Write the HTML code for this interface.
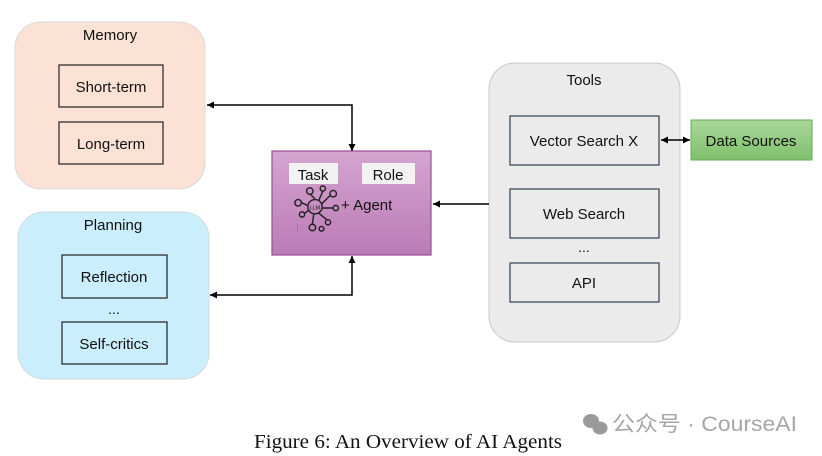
<!DOCTYPE html>
<html><head><meta charset="utf-8"><style>
body{margin:0;background:#fff;}
svg{display:block;}
text{font-family:"Liberation Sans",sans-serif;fill:#111;}
</style></head><body>
<svg width="822" height="456" viewBox="0 0 822 456" xmlns="http://www.w3.org/2000/svg">
<defs>
<linearGradient id="ag" x1="0" y1="0" x2="0" y2="1"><stop offset="0" stop-color="#d4a5d0"/><stop offset="1" stop-color="#bb7bb6"/></linearGradient>
<linearGradient id="gg" x1="0" y1="0" x2="0" y2="1"><stop offset="0" stop-color="#a9d89a"/><stop offset="1" stop-color="#7fc06c"/></linearGradient>
<marker id="ah" markerWidth="8" markerHeight="8" refX="7" refY="4" orient="auto" markerUnits="userSpaceOnUse"><path d="M0,0.5 L7,4 L0,7.5 z" fill="#000"/></marker>
<marker id="as" markerWidth="8" markerHeight="8" refX="1" refY="4" orient="auto" markerUnits="userSpaceOnUse"><path d="M8,0.5 L1,4 L8,7.5 z" fill="#000"/></marker>
</defs>
<!-- Memory -->
<rect x="15" y="22" width="190" height="167" rx="26" fill="#fbe2d5" stroke="#d9d9d9"/>
<text x="110" y="40" font-size="15" text-anchor="middle">Memory</text>
<rect x="59" y="65" width="104" height="42" fill="none" stroke="#222" stroke-width="1.2"/>
<text x="111" y="92" font-size="15" text-anchor="middle">Short-term</text>
<rect x="59" y="122" width="104" height="42" fill="none" stroke="#222" stroke-width="1.2"/>
<text x="111" y="149" font-size="15" text-anchor="middle">Long-term</text>
<!-- Planning -->
<rect x="18" y="212" width="191" height="167" rx="26" fill="#caeefb" stroke="#d0dbe0"/>
<text x="113" y="230" font-size="15" text-anchor="middle">Planning</text>
<rect x="62" y="255" width="105" height="43" fill="none" stroke="#222" stroke-width="1.2"/>
<text x="114" y="282" font-size="15" text-anchor="middle">Reflection</text>
<text x="114" y="314" font-size="14" text-anchor="middle">...</text>
<rect x="62" y="322" width="105" height="42" fill="none" stroke="#222" stroke-width="1.2"/>
<text x="114" y="349" font-size="15" text-anchor="middle">Self-critics</text>
<!-- Agent -->
<rect x="272" y="151" width="159" height="104" fill="url(#ag)" stroke="#9b4c97" stroke-width="1.2"/>
<rect x="289" y="163" width="49" height="21" fill="#f2f2f2"/>
<text x="313" y="180" font-size="15" text-anchor="middle">Task</text>
<rect x="362" y="163" width="53" height="21" fill="#f2f2f2"/>
<text x="388" y="180" font-size="15" text-anchor="middle">Role</text>
<g transform="translate(315,208) scale(1.3) translate(-315,-208)">
<g fill="none" stroke="#222" stroke-width="1.1">
<circle cx="315" cy="207" r="5.5"/>
<circle cx="311" cy="195" r="2.5"/><circle cx="321" cy="193" r="2"/><circle cx="329" cy="197" r="2.5"/>
<circle cx="302" cy="204" r="2.5"/><circle cx="305" cy="213" r="2"/><circle cx="331" cy="208" r="2"/>
<circle cx="313" cy="223" r="2.5"/><circle cx="325" cy="219" r="2"/><circle cx="320" cy="224" r="1.8"/>
<path d="M315,201 L311,197 M318,202 L321,195 M320,205 L327,198 M309,206 L305,204 M310,210 L307,212 M321,208 L329,208 M314,213 L313,220 M318,212 L324,217"/>
</g>
<text x="315" y="209" font-size="4" text-anchor="middle">LLM</text>
</g>
<rect x="297" y="224" width="1" height="8" fill="#888"/>
<text x="341" y="210" font-size="15">+ Agent</text>
<!-- Tools -->
<rect x="489" y="63" width="191" height="279" rx="26" fill="#ebebeb" stroke="#c8c8c8"/>
<text x="584" y="85" font-size="15" text-anchor="middle">Tools</text>
<rect x="510" y="116" width="149" height="49" fill="none" stroke="#2f3f55" stroke-width="1.2"/>
<text x="584" y="146" font-size="15" text-anchor="middle">Vector Search X</text>
<rect x="510" y="189" width="149" height="49" fill="none" stroke="#2f3f55" stroke-width="1.2"/>
<text x="584" y="219" font-size="15" text-anchor="middle">Web Search</text>
<text x="584" y="252" font-size="14" text-anchor="middle">...</text>
<rect x="510" y="263" width="149" height="39" fill="none" stroke="#2f3f55" stroke-width="1.2"/>
<text x="584" y="288" font-size="15" text-anchor="middle">API</text>
<rect x="691" y="120" width="121" height="40" fill="url(#gg)" stroke="#6aa85a"/>
<text x="751" y="146" font-size="15" text-anchor="middle">Data Sources</text>
<!-- connectors -->
<g stroke="#000" stroke-width="1.5" fill="none">
<polyline points="352,151 352,105 207,105" marker-start="url(#as)" marker-end="url(#ah)"/>
<polyline points="352,256 352,295 210,295" marker-start="url(#as)" marker-end="url(#ah)"/>
<line x1="489" y1="204" x2="433" y2="204" marker-end="url(#ah)"/>
<line x1="661" y1="140" x2="690" y2="140" marker-start="url(#as)" marker-end="url(#ah)"/>
</g>
<!-- watermark -->
<g fill="#9a9a9a">
<ellipse cx="591" cy="421" rx="8" ry="7"/><ellipse cx="600" cy="428" rx="7.5" ry="6.5"/>
</g>
<text x="612" y="431" font-size="21" style="fill:#a6a6a6;font-family:'Liberation Sans','Noto Sans CJK SC',sans-serif" textLength="185" lengthAdjust="spacingAndGlyphs">公众号 · CourseAI</text>
<text x="408" y="448" font-size="20" text-anchor="middle" style="font-family:'Liberation Serif',serif" textLength="308" lengthAdjust="spacingAndGlyphs">Figure 6: An Overview of AI Agents</text>
</svg>
</body></html>
